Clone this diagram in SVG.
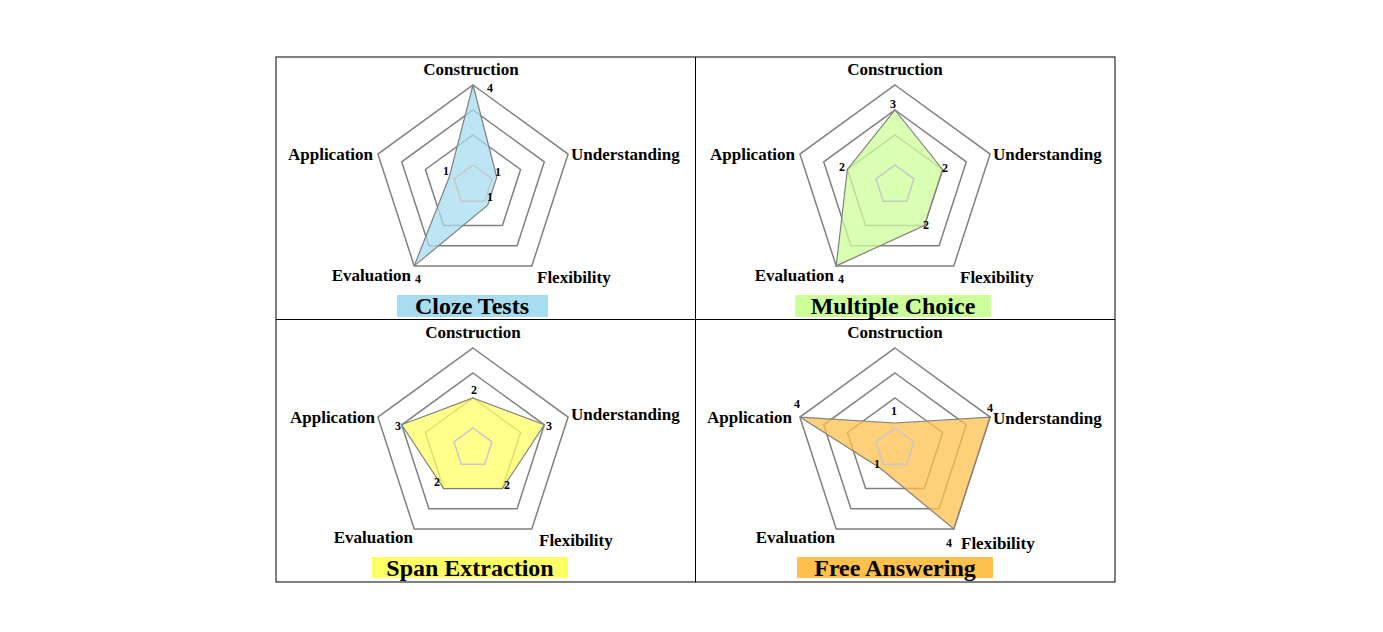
<svg xmlns="http://www.w3.org/2000/svg" width="1383" height="632" viewBox="0 0 1383 632">
<style>
.ring{fill:none;stroke:#808080;stroke-width:1.5}
.ringl{fill:none;stroke:#c8c8c8;stroke-width:1.5}
.ax{font-family:"Liberation Serif",serif;font-weight:bold;font-size:17px;fill:#000}
.v{font-family:"Liberation Serif",serif;font-weight:bold;font-size:12px;fill:#000;text-anchor:middle}
.t{font-family:"Liberation Serif",serif;font-weight:bold;font-size:24px;fill:#000;text-anchor:middle}
.d{stroke:#808080;stroke-width:1.2;fill-opacity:0.75}
</style>
<defs>
<g id="grid">
<polygon class="ring" points="0,-100 95.1,-30.9 58.8,80.9 -58.8,80.9 -95.1,-30.9"/>
<polygon class="ring" points="0,-75 71.3,-23.2 44.1,60.7 -44.1,60.7 -71.3,-23.2"/>
<polygon class="ring" points="0,-50 47.6,-15.5 29.4,40.5 -29.4,40.5 -47.6,-15.5"/>
</g>
<polygon id="inner" class="ringl" points="0,-20 19,-6.2 11.8,16.2 -11.8,16.2 -19,-6.2"/>
</defs>
<rect x="0" y="0" width="1383" height="632" fill="#fff"/>
<g id="frame" fill="none" stroke="#000" stroke-width="1">
<rect x="276" y="57" width="839" height="525"/>
<line x1="695.5" y1="57" x2="695.5" y2="582"/>
<line x1="276" y1="319.5" x2="1115" y2="319.5"/>
</g>
<g id="cloze">
<use href="#grid" transform="translate(473,185)"/>
<polygon class="d" fill="#a8dcf0" transform="translate(473,185)" points="0,-100 23.8,-7.7 14.7,20.2 -58.8,80.9 -23.8,-7.7"/>
<use href="#inner" transform="translate(473,185)"/>
<text class="ax" x="471" y="75" text-anchor="middle">Construction</text>
<text class="ax" x="571" y="160">Understanding</text>
<text class="ax" x="373" y="160" text-anchor="end">Application</text>
<text class="ax" x="411" y="281" text-anchor="end">Evaluation</text>
<text class="ax" x="537" y="283">Flexibility</text>
<text class="v" x="490" y="92">4</text><text class="v" x="446" y="175">1</text><text class="v" x="498" y="176">1</text><text class="v" x="490" y="201">1</text><text class="v" x="418" y="283">4</text>
<rect x="397" y="295" width="151" height="22" fill="#a8dcf0"/>
<text class="t" x="472" y="314">Cloze Tests</text>
</g>
<g id="mc">
<use href="#grid" transform="translate(895,185)"/>
<polygon class="d" fill="#ccff99" transform="translate(895,185)" points="0,-75 47.6,-15.5 29.4,40.5 -58.8,80.9 -47.6,-15.5"/>
<use href="#inner" transform="translate(895,185)"/>
<text class="ax" x="895" y="75" text-anchor="middle">Construction</text>
<text class="ax" x="993" y="160">Understanding</text>
<text class="ax" x="795" y="160" text-anchor="end">Application</text>
<text class="ax" x="834" y="281" text-anchor="end">Evaluation</text>
<text class="ax" x="960" y="283">Flexibility</text>
<text class="v" x="893" y="108">3</text><text class="v" x="842" y="171">2</text><text class="v" x="945" y="172">2</text><text class="v" x="926" y="229">2</text><text class="v" x="841" y="283">4</text>
<rect x="795" y="295" width="196" height="22" fill="#ccff99"/>
<text class="t" x="893" y="314">Multiple Choice</text>
</g>
<g id="span">
<use href="#grid" transform="translate(473,448)"/>
<polygon class="d" fill="#ffff66" transform="translate(473,448)" points="0,-50 71.3,-23.2 29.4,40.5 -29.4,40.5 -71.3,-23.2"/>
<use href="#inner" transform="translate(473,448)"/>
<text class="ax" x="473" y="338" text-anchor="middle">Construction</text>
<text class="ax" x="571" y="420">Understanding</text>
<text class="ax" x="375" y="423" text-anchor="end">Application</text>
<text class="ax" x="413" y="543" text-anchor="end">Evaluation</text>
<text class="ax" x="539" y="546">Flexibility</text>
<text class="v" x="474" y="394">2</text><text class="v" x="398" y="430">3</text><text class="v" x="549" y="430">3</text><text class="v" x="437" y="486">2</text><text class="v" x="507" y="489">2</text>
<rect x="372" y="557" width="196" height="21" fill="#ffff66"/>
<text class="t" x="470" y="576">Span Extraction</text>
</g>
<g id="free">
<use href="#grid" transform="translate(895,448)"/>
<polygon class="d" fill="#ffc04d" transform="translate(895,448)" points="0,-25 95.1,-30.9 58.8,80.9 -14.7,20.2 -95.1,-30.9"/>
<use href="#inner" transform="translate(895,448)"/>
<text class="ax" x="895" y="338" text-anchor="middle">Construction</text>
<text class="ax" x="993" y="424">Understanding</text>
<text class="ax" x="792" y="423" text-anchor="end">Application</text>
<text class="ax" x="835" y="543" text-anchor="end">Evaluation</text>
<text class="ax" x="961" y="549">Flexibility</text>
<text class="v" x="797" y="408">4</text><text class="v" x="990" y="412">4</text><text class="v" x="894" y="415">1</text><text class="v" x="877" y="468">1</text><text class="v" x="949" y="547">4</text>
<rect x="797" y="557" width="196" height="21" fill="#ffc04d"/>
<text class="t" x="895" y="576">Free Answering</text>
</g>
</svg>
